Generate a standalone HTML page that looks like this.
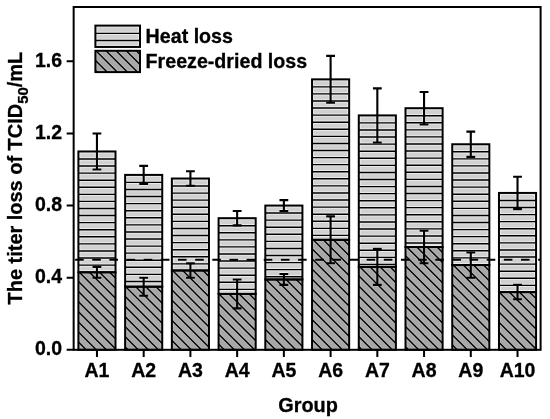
<!DOCTYPE html>
<html><head><meta charset="utf-8"><title>Titer loss chart</title>
<style>html,body{margin:0;padding:0;background:#fff;}svg{display:block;filter:blur(0.35px);}</style>
</head><body>
<svg width="550" height="419" viewBox="0 0 550 419">
<rect width="550" height="419" fill="#fff"/>
<defs><clipPath id="h0"><rect x="78.40" y="151.47" width="37.10" height="120.80"/></clipPath><clipPath id="d0"><rect x="78.40" y="272.27" width="37.10" height="77.53"/></clipPath><clipPath id="h1"><rect x="125.13" y="174.91" width="37.10" height="111.79"/></clipPath><clipPath id="d1"><rect x="125.13" y="286.69" width="37.10" height="63.11"/></clipPath><clipPath id="h2"><rect x="171.86" y="178.52" width="37.10" height="91.95"/></clipPath><clipPath id="d2"><rect x="171.86" y="270.47" width="37.10" height="79.33"/></clipPath><clipPath id="h3"><rect x="218.59" y="218.18" width="37.10" height="75.73"/></clipPath><clipPath id="d3"><rect x="218.59" y="293.91" width="37.10" height="55.89"/></clipPath><clipPath id="h4"><rect x="265.32" y="205.56" width="37.10" height="73.92"/></clipPath><clipPath id="d4"><rect x="265.32" y="279.48" width="37.10" height="70.32"/></clipPath><clipPath id="h5"><rect x="312.05" y="79.35" width="37.10" height="160.47"/></clipPath><clipPath id="d5"><rect x="312.05" y="239.82" width="37.10" height="109.98"/></clipPath><clipPath id="h6"><rect x="358.78" y="115.41" width="37.10" height="151.45"/></clipPath><clipPath id="d6"><rect x="358.78" y="266.86" width="37.10" height="82.94"/></clipPath><clipPath id="h7"><rect x="405.51" y="108.20" width="37.10" height="138.83"/></clipPath><clipPath id="d7"><rect x="405.51" y="247.03" width="37.10" height="102.77"/></clipPath><clipPath id="h8"><rect x="452.24" y="144.26" width="37.10" height="120.80"/></clipPath><clipPath id="d8"><rect x="452.24" y="265.06" width="37.10" height="84.74"/></clipPath><clipPath id="h9"><rect x="498.97" y="192.94" width="37.10" height="99.16"/></clipPath><clipPath id="d9"><rect x="498.97" y="292.10" width="37.10" height="57.70"/></clipPath><clipPath id="lg1"><rect x="95.40" y="25.60" width="44.60" height="21.35"/></clipPath><clipPath id="lg2"><rect x="95.40" y="50.80" width="44.60" height="21.30"/></clipPath><path id="dl" d="M75.1 259.65H540.60" stroke-dasharray="8.6 8.55" fill="none"/><path id="eb" d="M96.95 133.44V169.50M92.55 133.44h8.8M92.55 169.50h8.8M96.95 266.86V277.68M92.55 266.86h8.8M92.55 277.68h8.8M143.68 165.89V183.92M139.28 165.89h8.8M139.28 183.92h8.8M143.68 277.68V295.71M139.28 277.68h8.8M139.28 295.71h8.8M190.41 171.30V185.73M186.01 171.30h8.8M186.01 185.73h8.8M190.41 263.26V277.68M186.01 263.26h8.8M186.01 277.68h8.8M237.14 210.97V225.39M232.74 210.97h8.8M232.74 225.39h8.8M237.14 279.48V308.33M232.74 279.48h8.8M232.74 308.33h8.8M283.87 200.15V210.97M279.47 200.15h8.8M279.47 210.97h8.8M283.87 274.07V284.89M279.47 274.07h8.8M279.47 284.89h8.8M330.60 55.91V102.79M326.20 55.91h8.8M326.20 102.79h8.8M330.60 216.38V263.26M326.20 216.38h8.8M326.20 263.26h8.8M377.33 88.37V142.45M372.93 88.37h8.8M372.93 142.45h8.8M377.33 248.83V284.89M372.93 248.83h8.8M372.93 284.89h8.8M424.06 91.97V124.43M419.66 91.97h8.8M419.66 124.43h8.8M424.06 230.80V263.26M419.66 230.80h8.8M419.66 263.26h8.8M470.79 131.64V156.88M466.39 131.64h8.8M466.39 156.88h8.8M470.79 252.44V277.68M466.39 252.44h8.8M466.39 277.68h8.8M517.52 176.71V209.17M513.12 176.71h8.8M513.12 209.17h8.8M517.52 284.89V299.32M513.12 284.89h8.8M513.12 299.32h8.8" fill="none"/></defs>
<rect x="78.40" y="151.47" width="37.10" height="120.80" fill="#d0d0d0"/>
<rect x="78.40" y="272.27" width="37.10" height="77.53" fill="#a7a7a7"/>
<rect x="125.13" y="174.91" width="37.10" height="111.79" fill="#d0d0d0"/>
<rect x="125.13" y="286.69" width="37.10" height="63.11" fill="#a7a7a7"/>
<rect x="171.86" y="178.52" width="37.10" height="91.95" fill="#d0d0d0"/>
<rect x="171.86" y="270.47" width="37.10" height="79.33" fill="#a7a7a7"/>
<rect x="218.59" y="218.18" width="37.10" height="75.73" fill="#d0d0d0"/>
<rect x="218.59" y="293.91" width="37.10" height="55.89" fill="#a7a7a7"/>
<rect x="265.32" y="205.56" width="37.10" height="73.92" fill="#d0d0d0"/>
<rect x="265.32" y="279.48" width="37.10" height="70.32" fill="#a7a7a7"/>
<rect x="312.05" y="79.35" width="37.10" height="160.47" fill="#d0d0d0"/>
<rect x="312.05" y="239.82" width="37.10" height="109.98" fill="#a7a7a7"/>
<rect x="358.78" y="115.41" width="37.10" height="151.45" fill="#d0d0d0"/>
<rect x="358.78" y="266.86" width="37.10" height="82.94" fill="#a7a7a7"/>
<rect x="405.51" y="108.20" width="37.10" height="138.83" fill="#d0d0d0"/>
<rect x="405.51" y="247.03" width="37.10" height="102.77" fill="#a7a7a7"/>
<rect x="452.24" y="144.26" width="37.10" height="120.80" fill="#d0d0d0"/>
<rect x="452.24" y="265.06" width="37.10" height="84.74" fill="#a7a7a7"/>
<rect x="498.97" y="192.94" width="37.10" height="99.16" fill="#d0d0d0"/>
<rect x="498.97" y="292.10" width="37.10" height="57.70" fill="#a7a7a7"/>
<rect x="95.40" y="25.60" width="44.60" height="21.35" fill="#d0d0d0"/>
<rect x="95.40" y="50.80" width="44.60" height="21.30" fill="#a7a7a7"/>
<g clip-path="url(#h0)" stroke="#fff" fill="none" opacity="0.55"><path d="M78.40 158.97H115.50M78.40 166.04H115.50M78.40 173.12H115.50M78.40 180.19H115.50M78.40 187.27H115.50M78.40 194.34H115.50M78.40 201.42H115.50M78.40 208.49H115.50M78.40 215.57H115.50M78.40 222.64H115.50M78.40 229.72H115.50M78.40 236.79H115.50M78.40 243.87H115.50M78.40 250.94H115.50M78.40 258.02H115.50M78.40 265.09H115.50" stroke-width="3.4"/><rect x="78.40" y="151.47" width="37.10" height="120.80" stroke-width="4.0"/><use href="#eb" stroke-width="4.0"/><use href="#dl" stroke-width="4.0"/></g>
<g clip-path="url(#d0)" stroke="#fff" fill="none" opacity="0.15"><path d="M76.40 218.80L117.50 259.90M76.40 228.90L117.50 270.00M76.40 239.00L117.50 280.10M76.40 249.10L117.50 290.20M76.40 259.20L117.50 300.30M76.40 269.30L117.50 310.40M76.40 279.40L117.50 320.50M76.40 289.50L117.50 330.60M76.40 299.60L117.50 340.70M76.40 309.70L117.50 350.80M76.40 319.80L117.50 360.90M76.40 329.90L117.50 371.00M76.40 340.00L117.50 381.10M76.40 350.10L117.50 391.20M76.40 360.20L117.50 401.30" stroke-width="3.4"/><rect x="78.40" y="272.27" width="37.10" height="77.53" stroke-width="4.0"/><use href="#eb" stroke-width="4.0"/><use href="#dl" stroke-width="4.0"/></g>
<g clip-path="url(#h1)" stroke="#fff" fill="none" opacity="0.55"><path d="M125.13 182.41H162.23M125.13 189.48H162.23M125.13 196.56H162.23M125.13 203.63H162.23M125.13 210.71H162.23M125.13 217.78H162.23M125.13 224.86H162.23M125.13 231.93H162.23M125.13 239.01H162.23M125.13 246.08H162.23M125.13 253.16H162.23M125.13 260.23H162.23M125.13 267.31H162.23M125.13 274.38H162.23M125.13 281.46H162.23" stroke-width="3.4"/><rect x="125.13" y="174.91" width="37.10" height="111.79" stroke-width="4.0"/><use href="#eb" stroke-width="4.0"/><use href="#dl" stroke-width="4.0"/></g>
<g clip-path="url(#d1)" stroke="#fff" fill="none" opacity="0.15"><path d="M123.13 233.73L164.23 274.83M123.13 243.83L164.23 284.93M123.13 253.93L164.23 295.03M123.13 264.03L164.23 305.13M123.13 274.13L164.23 315.23M123.13 284.23L164.23 325.33M123.13 294.33L164.23 335.43M123.13 304.43L164.23 345.53M123.13 314.53L164.23 355.63M123.13 324.63L164.23 365.73M123.13 334.73L164.23 375.83M123.13 344.83L164.23 385.93M123.13 354.93L164.23 396.03M123.13 365.03L164.23 406.13" stroke-width="3.4"/><rect x="125.13" y="286.69" width="37.10" height="63.11" stroke-width="4.0"/><use href="#eb" stroke-width="4.0"/><use href="#dl" stroke-width="4.0"/></g>
<g clip-path="url(#h2)" stroke="#fff" fill="none" opacity="0.55"><path d="M171.86 186.02H208.96M171.86 193.09H208.96M171.86 200.16H208.96M171.86 207.24H208.96M171.86 214.31H208.96M171.86 221.39H208.96M171.86 228.46H208.96M171.86 235.54H208.96M171.86 242.61H208.96M171.86 249.69H208.96M171.86 256.76H208.96M171.86 263.84H208.96" stroke-width="3.4"/><rect x="171.86" y="178.52" width="37.10" height="91.95" stroke-width="4.0"/><use href="#eb" stroke-width="4.0"/><use href="#dl" stroke-width="4.0"/></g>
<g clip-path="url(#d2)" stroke="#fff" fill="none" opacity="0.15"><path d="M169.86 217.26L210.96 258.36M169.86 227.36L210.96 268.46M169.86 237.46L210.96 278.56M169.86 247.56L210.96 288.66M169.86 257.66L210.96 298.76M169.86 267.76L210.96 308.86M169.86 277.86L210.96 318.96M169.86 287.96L210.96 329.06M169.86 298.06L210.96 339.16M169.86 308.16L210.96 349.26M169.86 318.26L210.96 359.36M169.86 328.36L210.96 369.46M169.86 338.46L210.96 379.56M169.86 348.56L210.96 389.66M169.86 358.66L210.96 399.76" stroke-width="3.4"/><rect x="171.86" y="270.47" width="37.10" height="79.33" stroke-width="4.0"/><use href="#eb" stroke-width="4.0"/><use href="#dl" stroke-width="4.0"/></g>
<g clip-path="url(#h3)" stroke="#fff" fill="none" opacity="0.55"><path d="M218.59 225.68H255.69M218.59 232.76H255.69M218.59 239.83H255.69M218.59 246.91H255.69M218.59 253.98H255.69M218.59 261.06H255.69M218.59 268.13H255.69M218.59 275.21H255.69M218.59 282.28H255.69M218.59 289.36H255.69" stroke-width="3.4"/><rect x="218.59" y="218.18" width="37.10" height="75.73" stroke-width="4.0"/><use href="#eb" stroke-width="4.0"/><use href="#dl" stroke-width="4.0"/></g>
<g clip-path="url(#d3)" stroke="#fff" fill="none" opacity="0.15"><path d="M216.59 241.09L257.69 282.19M216.59 251.19L257.69 292.29M216.59 261.29L257.69 302.39M216.59 271.39L257.69 312.49M216.59 281.49L257.69 322.59M216.59 291.59L257.69 332.69M216.59 301.69L257.69 342.79M216.59 311.79L257.69 352.89M216.59 321.89L257.69 362.99M216.59 331.99L257.69 373.09M216.59 342.09L257.69 383.19M216.59 352.19L257.69 393.29M216.59 362.29L257.69 403.39" stroke-width="3.4"/><rect x="218.59" y="293.91" width="37.10" height="55.89" stroke-width="4.0"/><use href="#eb" stroke-width="4.0"/><use href="#dl" stroke-width="4.0"/></g>
<g clip-path="url(#h4)" stroke="#fff" fill="none" opacity="0.55"><path d="M265.32 213.06H302.42M265.32 220.13H302.42M265.32 227.21H302.42M265.32 234.28H302.42M265.32 241.36H302.42M265.32 248.43H302.42M265.32 255.51H302.42M265.32 262.58H302.42M265.32 269.66H302.42M265.32 276.73H302.42" stroke-width="3.4"/><rect x="265.32" y="205.56" width="37.10" height="73.92" stroke-width="4.0"/><use href="#eb" stroke-width="4.0"/><use href="#dl" stroke-width="4.0"/></g>
<g clip-path="url(#d4)" stroke="#fff" fill="none" opacity="0.15"><path d="M263.32 226.42L304.42 267.52M263.32 236.52L304.42 277.62M263.32 246.62L304.42 287.72M263.32 256.72L304.42 297.82M263.32 266.82L304.42 307.92M263.32 276.92L304.42 318.02M263.32 287.02L304.42 328.12M263.32 297.12L304.42 338.22M263.32 307.22L304.42 348.32M263.32 317.32L304.42 358.42M263.32 327.42L304.42 368.52M263.32 337.52L304.42 378.62M263.32 347.62L304.42 388.72M263.32 357.72L304.42 398.82M263.32 367.82L304.42 408.92" stroke-width="3.4"/><rect x="265.32" y="279.48" width="37.10" height="70.32" stroke-width="4.0"/><use href="#eb" stroke-width="4.0"/><use href="#dl" stroke-width="4.0"/></g>
<g clip-path="url(#h5)" stroke="#fff" fill="none" opacity="0.55"><path d="M312.05 86.85H349.15M312.05 93.92H349.15M312.05 101.00H349.15M312.05 108.07H349.15M312.05 115.15H349.15M312.05 122.22H349.15M312.05 129.30H349.15M312.05 136.37H349.15M312.05 143.45H349.15M312.05 150.52H349.15M312.05 157.60H349.15M312.05 164.67H349.15M312.05 171.75H349.15M312.05 178.82H349.15M312.05 185.90H349.15M312.05 192.97H349.15M312.05 200.05H349.15M312.05 207.12H349.15M312.05 214.20H349.15M312.05 221.27H349.15M312.05 228.35H349.15M312.05 235.42H349.15" stroke-width="3.4"/><rect x="312.05" y="79.35" width="37.10" height="160.47" stroke-width="4.0"/><use href="#eb" stroke-width="4.0"/><use href="#dl" stroke-width="4.0"/></g>
<g clip-path="url(#d5)" stroke="#fff" fill="none" opacity="0.15"><path d="M310.05 186.15L351.15 227.25M310.05 196.25L351.15 237.35M310.05 206.35L351.15 247.45M310.05 216.45L351.15 257.55M310.05 226.55L351.15 267.65M310.05 236.65L351.15 277.75M310.05 246.75L351.15 287.85M310.05 256.85L351.15 297.95M310.05 266.95L351.15 308.05M310.05 277.05L351.15 318.15M310.05 287.15L351.15 328.25M310.05 297.25L351.15 338.35M310.05 307.35L351.15 348.45M310.05 317.45L351.15 358.55M310.05 327.55L351.15 368.65M310.05 337.65L351.15 378.75M310.05 347.75L351.15 388.85M310.05 357.85L351.15 398.95M310.05 367.95L351.15 409.05" stroke-width="3.4"/><rect x="312.05" y="239.82" width="37.10" height="109.98" stroke-width="4.0"/><use href="#eb" stroke-width="4.0"/><use href="#dl" stroke-width="4.0"/></g>
<g clip-path="url(#h6)" stroke="#fff" fill="none" opacity="0.55"><path d="M358.78 122.91H395.88M358.78 129.98H395.88M358.78 137.06H395.88M358.78 144.13H395.88M358.78 151.21H395.88M358.78 158.28H395.88M358.78 165.36H395.88M358.78 172.43H395.88M358.78 179.51H395.88M358.78 186.58H395.88M358.78 193.66H395.88M358.78 200.73H395.88M358.78 207.81H395.88M358.78 214.88H395.88M358.78 221.96H395.88M358.78 229.03H395.88M358.78 236.11H395.88M358.78 243.18H395.88M358.78 250.26H395.88M358.78 257.33H395.88M358.78 264.41H395.88" stroke-width="3.4"/><rect x="358.78" y="115.41" width="37.10" height="151.45" stroke-width="4.0"/><use href="#eb" stroke-width="4.0"/><use href="#dl" stroke-width="4.0"/></g>
<g clip-path="url(#d6)" stroke="#fff" fill="none" opacity="0.15"><path d="M356.78 213.28L397.88 254.38M356.78 223.38L397.88 264.48M356.78 233.48L397.88 274.58M356.78 243.58L397.88 284.68M356.78 253.68L397.88 294.78M356.78 263.78L397.88 304.88M356.78 273.88L397.88 314.98M356.78 283.98L397.88 325.08M356.78 294.08L397.88 335.18M356.78 304.18L397.88 345.28M356.78 314.28L397.88 355.38M356.78 324.38L397.88 365.48M356.78 334.48L397.88 375.58M356.78 344.58L397.88 385.68M356.78 354.68L397.88 395.78M356.78 364.78L397.88 405.88" stroke-width="3.4"/><rect x="358.78" y="266.86" width="37.10" height="82.94" stroke-width="4.0"/><use href="#eb" stroke-width="4.0"/><use href="#dl" stroke-width="4.0"/></g>
<g clip-path="url(#h7)" stroke="#fff" fill="none" opacity="0.55"><path d="M405.51 115.70H442.61M405.51 122.77H442.61M405.51 129.85H442.61M405.51 136.92H442.61M405.51 144.00H442.61M405.51 151.07H442.61M405.51 158.15H442.61M405.51 165.22H442.61M405.51 172.30H442.61M405.51 179.37H442.61M405.51 186.45H442.61M405.51 193.52H442.61M405.51 200.60H442.61M405.51 207.67H442.61M405.51 214.75H442.61M405.51 221.82H442.61M405.51 228.90H442.61M405.51 235.97H442.61M405.51 243.05H442.61" stroke-width="3.4"/><rect x="405.51" y="108.20" width="37.10" height="138.83" stroke-width="4.0"/><use href="#eb" stroke-width="4.0"/><use href="#dl" stroke-width="4.0"/></g>
<g clip-path="url(#d7)" stroke="#fff" fill="none" opacity="0.15"><path d="M403.51 193.21L444.61 234.31M403.51 203.31L444.61 244.41M403.51 213.41L444.61 254.51M403.51 223.51L444.61 264.61M403.51 233.61L444.61 274.71M403.51 243.71L444.61 284.81M403.51 253.81L444.61 294.91M403.51 263.91L444.61 305.01M403.51 274.01L444.61 315.11M403.51 284.11L444.61 325.21M403.51 294.21L444.61 335.31M403.51 304.31L444.61 345.41M403.51 314.41L444.61 355.51M403.51 324.51L444.61 365.61M403.51 334.61L444.61 375.71M403.51 344.71L444.61 385.81M403.51 354.81L444.61 395.91M403.51 364.91L444.61 406.01" stroke-width="3.4"/><rect x="405.51" y="247.03" width="37.10" height="102.77" stroke-width="4.0"/><use href="#eb" stroke-width="4.0"/><use href="#dl" stroke-width="4.0"/></g>
<g clip-path="url(#h8)" stroke="#fff" fill="none" opacity="0.55"><path d="M452.24 151.76H489.34M452.24 158.83H489.34M452.24 165.91H489.34M452.24 172.98H489.34M452.24 180.06H489.34M452.24 187.13H489.34M452.24 194.21H489.34M452.24 201.28H489.34M452.24 208.36H489.34M452.24 215.43H489.34M452.24 222.51H489.34M452.24 229.58H489.34M452.24 236.66H489.34M452.24 243.73H489.34M452.24 250.81H489.34M452.24 257.88H489.34" stroke-width="3.4"/><rect x="452.24" y="144.26" width="37.10" height="120.80" stroke-width="4.0"/><use href="#eb" stroke-width="4.0"/><use href="#dl" stroke-width="4.0"/></g>
<g clip-path="url(#d8)" stroke="#fff" fill="none" opacity="0.15"><path d="M450.24 211.54L491.34 252.64M450.24 221.64L491.34 262.74M450.24 231.74L491.34 272.84M450.24 241.84L491.34 282.94M450.24 251.94L491.34 293.04M450.24 262.04L491.34 303.14M450.24 272.14L491.34 313.24M450.24 282.24L491.34 323.34M450.24 292.34L491.34 333.44M450.24 302.44L491.34 343.54M450.24 312.54L491.34 353.64M450.24 322.64L491.34 363.74M450.24 332.74L491.34 373.84M450.24 342.84L491.34 383.94M450.24 352.94L491.34 394.04M450.24 363.04L491.34 404.14" stroke-width="3.4"/><rect x="452.24" y="265.06" width="37.10" height="84.74" stroke-width="4.0"/><use href="#eb" stroke-width="4.0"/><use href="#dl" stroke-width="4.0"/></g>
<g clip-path="url(#h9)" stroke="#fff" fill="none" opacity="0.55"><path d="M498.97 200.44H536.07M498.97 207.51H536.07M498.97 214.59H536.07M498.97 221.66H536.07M498.97 228.74H536.07M498.97 235.81H536.07M498.97 242.89H536.07M498.97 249.96H536.07M498.97 257.04H536.07M498.97 264.11H536.07M498.97 271.19H536.07M498.97 278.26H536.07M498.97 285.34H536.07" stroke-width="3.4"/><rect x="498.97" y="192.94" width="37.10" height="99.16" stroke-width="4.0"/><use href="#eb" stroke-width="4.0"/><use href="#dl" stroke-width="4.0"/></g>
<g clip-path="url(#d9)" stroke="#fff" fill="none" opacity="0.15"><path d="M496.97 239.37L538.07 280.47M496.97 249.47L538.07 290.57M496.97 259.57L538.07 300.67M496.97 269.67L538.07 310.77M496.97 279.77L538.07 320.87M496.97 289.87L538.07 330.97M496.97 299.97L538.07 341.07M496.97 310.07L538.07 351.17M496.97 320.17L538.07 361.27M496.97 330.27L538.07 371.37M496.97 340.37L538.07 381.47M496.97 350.47L538.07 391.57M496.97 360.57L538.07 401.67" stroke-width="3.4"/><rect x="498.97" y="292.10" width="37.10" height="57.70" stroke-width="4.0"/><use href="#eb" stroke-width="4.0"/><use href="#dl" stroke-width="4.0"/></g>
<g clip-path="url(#lg1)" stroke="#fff" fill="none" opacity="0.55"><path d="M95.40 33.40H140.00M95.40 40.48H140.00" stroke-width="3.4"/><rect x="95.40" y="25.60" width="44.60" height="21.35" stroke-width="4.0"/><use href="#eb" stroke-width="4.0"/><use href="#dl" stroke-width="4.0"/></g>
<g clip-path="url(#lg2)" stroke="#fff" fill="none" opacity="0.15"><path d="M93.40 -12.40L142.00 36.20M93.40 -2.30L142.00 46.30M93.40 7.80L142.00 56.40M93.40 17.90L142.00 66.50M93.40 28.00L142.00 76.60M93.40 38.10L142.00 86.70M93.40 48.20L142.00 96.80M93.40 58.30L142.00 106.90M93.40 68.40L142.00 117.00M93.40 78.50L142.00 127.10M93.40 88.60L142.00 137.20" stroke-width="3.4"/><rect x="95.40" y="50.80" width="44.60" height="21.30" stroke-width="4.0"/><use href="#eb" stroke-width="4.0"/><use href="#dl" stroke-width="4.0"/></g>
<path d="M78.40 158.97H115.50M78.40 166.04H115.50M78.40 173.12H115.50M78.40 180.19H115.50M78.40 187.27H115.50M78.40 194.34H115.50M78.40 201.42H115.50M78.40 208.49H115.50M78.40 215.57H115.50M78.40 222.64H115.50M78.40 229.72H115.50M78.40 236.79H115.50M78.40 243.87H115.50M78.40 250.94H115.50M78.40 258.02H115.50M78.40 265.09H115.50" stroke="#000" stroke-width="1.4" fill="none" clip-path="url(#h0)"/>
<path d="M76.40 218.80L117.50 259.90M76.40 228.90L117.50 270.00M76.40 239.00L117.50 280.10M76.40 249.10L117.50 290.20M76.40 259.20L117.50 300.30M76.40 269.30L117.50 310.40M76.40 279.40L117.50 320.50M76.40 289.50L117.50 330.60M76.40 299.60L117.50 340.70M76.40 309.70L117.50 350.80M76.40 319.80L117.50 360.90M76.40 329.90L117.50 371.00M76.40 340.00L117.50 381.10M76.40 350.10L117.50 391.20M76.40 360.20L117.50 401.30" stroke="#000" stroke-width="1.4" fill="none" clip-path="url(#d0)"/>
<path d="M125.13 182.41H162.23M125.13 189.48H162.23M125.13 196.56H162.23M125.13 203.63H162.23M125.13 210.71H162.23M125.13 217.78H162.23M125.13 224.86H162.23M125.13 231.93H162.23M125.13 239.01H162.23M125.13 246.08H162.23M125.13 253.16H162.23M125.13 260.23H162.23M125.13 267.31H162.23M125.13 274.38H162.23M125.13 281.46H162.23" stroke="#000" stroke-width="1.4" fill="none" clip-path="url(#h1)"/>
<path d="M123.13 233.73L164.23 274.83M123.13 243.83L164.23 284.93M123.13 253.93L164.23 295.03M123.13 264.03L164.23 305.13M123.13 274.13L164.23 315.23M123.13 284.23L164.23 325.33M123.13 294.33L164.23 335.43M123.13 304.43L164.23 345.53M123.13 314.53L164.23 355.63M123.13 324.63L164.23 365.73M123.13 334.73L164.23 375.83M123.13 344.83L164.23 385.93M123.13 354.93L164.23 396.03M123.13 365.03L164.23 406.13" stroke="#000" stroke-width="1.4" fill="none" clip-path="url(#d1)"/>
<path d="M171.86 186.02H208.96M171.86 193.09H208.96M171.86 200.16H208.96M171.86 207.24H208.96M171.86 214.31H208.96M171.86 221.39H208.96M171.86 228.46H208.96M171.86 235.54H208.96M171.86 242.61H208.96M171.86 249.69H208.96M171.86 256.76H208.96M171.86 263.84H208.96" stroke="#000" stroke-width="1.4" fill="none" clip-path="url(#h2)"/>
<path d="M169.86 217.26L210.96 258.36M169.86 227.36L210.96 268.46M169.86 237.46L210.96 278.56M169.86 247.56L210.96 288.66M169.86 257.66L210.96 298.76M169.86 267.76L210.96 308.86M169.86 277.86L210.96 318.96M169.86 287.96L210.96 329.06M169.86 298.06L210.96 339.16M169.86 308.16L210.96 349.26M169.86 318.26L210.96 359.36M169.86 328.36L210.96 369.46M169.86 338.46L210.96 379.56M169.86 348.56L210.96 389.66M169.86 358.66L210.96 399.76" stroke="#000" stroke-width="1.4" fill="none" clip-path="url(#d2)"/>
<path d="M218.59 225.68H255.69M218.59 232.76H255.69M218.59 239.83H255.69M218.59 246.91H255.69M218.59 253.98H255.69M218.59 261.06H255.69M218.59 268.13H255.69M218.59 275.21H255.69M218.59 282.28H255.69M218.59 289.36H255.69" stroke="#000" stroke-width="1.4" fill="none" clip-path="url(#h3)"/>
<path d="M216.59 241.09L257.69 282.19M216.59 251.19L257.69 292.29M216.59 261.29L257.69 302.39M216.59 271.39L257.69 312.49M216.59 281.49L257.69 322.59M216.59 291.59L257.69 332.69M216.59 301.69L257.69 342.79M216.59 311.79L257.69 352.89M216.59 321.89L257.69 362.99M216.59 331.99L257.69 373.09M216.59 342.09L257.69 383.19M216.59 352.19L257.69 393.29M216.59 362.29L257.69 403.39" stroke="#000" stroke-width="1.4" fill="none" clip-path="url(#d3)"/>
<path d="M265.32 213.06H302.42M265.32 220.13H302.42M265.32 227.21H302.42M265.32 234.28H302.42M265.32 241.36H302.42M265.32 248.43H302.42M265.32 255.51H302.42M265.32 262.58H302.42M265.32 269.66H302.42M265.32 276.73H302.42" stroke="#000" stroke-width="1.4" fill="none" clip-path="url(#h4)"/>
<path d="M263.32 226.42L304.42 267.52M263.32 236.52L304.42 277.62M263.32 246.62L304.42 287.72M263.32 256.72L304.42 297.82M263.32 266.82L304.42 307.92M263.32 276.92L304.42 318.02M263.32 287.02L304.42 328.12M263.32 297.12L304.42 338.22M263.32 307.22L304.42 348.32M263.32 317.32L304.42 358.42M263.32 327.42L304.42 368.52M263.32 337.52L304.42 378.62M263.32 347.62L304.42 388.72M263.32 357.72L304.42 398.82M263.32 367.82L304.42 408.92" stroke="#000" stroke-width="1.4" fill="none" clip-path="url(#d4)"/>
<path d="M312.05 86.85H349.15M312.05 93.92H349.15M312.05 101.00H349.15M312.05 108.07H349.15M312.05 115.15H349.15M312.05 122.22H349.15M312.05 129.30H349.15M312.05 136.37H349.15M312.05 143.45H349.15M312.05 150.52H349.15M312.05 157.60H349.15M312.05 164.67H349.15M312.05 171.75H349.15M312.05 178.82H349.15M312.05 185.90H349.15M312.05 192.97H349.15M312.05 200.05H349.15M312.05 207.12H349.15M312.05 214.20H349.15M312.05 221.27H349.15M312.05 228.35H349.15M312.05 235.42H349.15" stroke="#000" stroke-width="1.4" fill="none" clip-path="url(#h5)"/>
<path d="M310.05 186.15L351.15 227.25M310.05 196.25L351.15 237.35M310.05 206.35L351.15 247.45M310.05 216.45L351.15 257.55M310.05 226.55L351.15 267.65M310.05 236.65L351.15 277.75M310.05 246.75L351.15 287.85M310.05 256.85L351.15 297.95M310.05 266.95L351.15 308.05M310.05 277.05L351.15 318.15M310.05 287.15L351.15 328.25M310.05 297.25L351.15 338.35M310.05 307.35L351.15 348.45M310.05 317.45L351.15 358.55M310.05 327.55L351.15 368.65M310.05 337.65L351.15 378.75M310.05 347.75L351.15 388.85M310.05 357.85L351.15 398.95M310.05 367.95L351.15 409.05" stroke="#000" stroke-width="1.4" fill="none" clip-path="url(#d5)"/>
<path d="M358.78 122.91H395.88M358.78 129.98H395.88M358.78 137.06H395.88M358.78 144.13H395.88M358.78 151.21H395.88M358.78 158.28H395.88M358.78 165.36H395.88M358.78 172.43H395.88M358.78 179.51H395.88M358.78 186.58H395.88M358.78 193.66H395.88M358.78 200.73H395.88M358.78 207.81H395.88M358.78 214.88H395.88M358.78 221.96H395.88M358.78 229.03H395.88M358.78 236.11H395.88M358.78 243.18H395.88M358.78 250.26H395.88M358.78 257.33H395.88M358.78 264.41H395.88" stroke="#000" stroke-width="1.4" fill="none" clip-path="url(#h6)"/>
<path d="M356.78 213.28L397.88 254.38M356.78 223.38L397.88 264.48M356.78 233.48L397.88 274.58M356.78 243.58L397.88 284.68M356.78 253.68L397.88 294.78M356.78 263.78L397.88 304.88M356.78 273.88L397.88 314.98M356.78 283.98L397.88 325.08M356.78 294.08L397.88 335.18M356.78 304.18L397.88 345.28M356.78 314.28L397.88 355.38M356.78 324.38L397.88 365.48M356.78 334.48L397.88 375.58M356.78 344.58L397.88 385.68M356.78 354.68L397.88 395.78M356.78 364.78L397.88 405.88" stroke="#000" stroke-width="1.4" fill="none" clip-path="url(#d6)"/>
<path d="M405.51 115.70H442.61M405.51 122.77H442.61M405.51 129.85H442.61M405.51 136.92H442.61M405.51 144.00H442.61M405.51 151.07H442.61M405.51 158.15H442.61M405.51 165.22H442.61M405.51 172.30H442.61M405.51 179.37H442.61M405.51 186.45H442.61M405.51 193.52H442.61M405.51 200.60H442.61M405.51 207.67H442.61M405.51 214.75H442.61M405.51 221.82H442.61M405.51 228.90H442.61M405.51 235.97H442.61M405.51 243.05H442.61" stroke="#000" stroke-width="1.4" fill="none" clip-path="url(#h7)"/>
<path d="M403.51 193.21L444.61 234.31M403.51 203.31L444.61 244.41M403.51 213.41L444.61 254.51M403.51 223.51L444.61 264.61M403.51 233.61L444.61 274.71M403.51 243.71L444.61 284.81M403.51 253.81L444.61 294.91M403.51 263.91L444.61 305.01M403.51 274.01L444.61 315.11M403.51 284.11L444.61 325.21M403.51 294.21L444.61 335.31M403.51 304.31L444.61 345.41M403.51 314.41L444.61 355.51M403.51 324.51L444.61 365.61M403.51 334.61L444.61 375.71M403.51 344.71L444.61 385.81M403.51 354.81L444.61 395.91M403.51 364.91L444.61 406.01" stroke="#000" stroke-width="1.4" fill="none" clip-path="url(#d7)"/>
<path d="M452.24 151.76H489.34M452.24 158.83H489.34M452.24 165.91H489.34M452.24 172.98H489.34M452.24 180.06H489.34M452.24 187.13H489.34M452.24 194.21H489.34M452.24 201.28H489.34M452.24 208.36H489.34M452.24 215.43H489.34M452.24 222.51H489.34M452.24 229.58H489.34M452.24 236.66H489.34M452.24 243.73H489.34M452.24 250.81H489.34M452.24 257.88H489.34" stroke="#000" stroke-width="1.4" fill="none" clip-path="url(#h8)"/>
<path d="M450.24 211.54L491.34 252.64M450.24 221.64L491.34 262.74M450.24 231.74L491.34 272.84M450.24 241.84L491.34 282.94M450.24 251.94L491.34 293.04M450.24 262.04L491.34 303.14M450.24 272.14L491.34 313.24M450.24 282.24L491.34 323.34M450.24 292.34L491.34 333.44M450.24 302.44L491.34 343.54M450.24 312.54L491.34 353.64M450.24 322.64L491.34 363.74M450.24 332.74L491.34 373.84M450.24 342.84L491.34 383.94M450.24 352.94L491.34 394.04M450.24 363.04L491.34 404.14" stroke="#000" stroke-width="1.4" fill="none" clip-path="url(#d8)"/>
<path d="M498.97 200.44H536.07M498.97 207.51H536.07M498.97 214.59H536.07M498.97 221.66H536.07M498.97 228.74H536.07M498.97 235.81H536.07M498.97 242.89H536.07M498.97 249.96H536.07M498.97 257.04H536.07M498.97 264.11H536.07M498.97 271.19H536.07M498.97 278.26H536.07M498.97 285.34H536.07" stroke="#000" stroke-width="1.4" fill="none" clip-path="url(#h9)"/>
<path d="M496.97 239.37L538.07 280.47M496.97 249.47L538.07 290.57M496.97 259.57L538.07 300.67M496.97 269.67L538.07 310.77M496.97 279.77L538.07 320.87M496.97 289.87L538.07 330.97M496.97 299.97L538.07 341.07M496.97 310.07L538.07 351.17M496.97 320.17L538.07 361.27M496.97 330.27L538.07 371.37M496.97 340.37L538.07 381.47M496.97 350.47L538.07 391.57M496.97 360.57L538.07 401.67" stroke="#000" stroke-width="1.4" fill="none" clip-path="url(#d9)"/>
<path d="M95.40 33.40H140.00M95.40 40.48H140.00" stroke="#000" stroke-width="1.4" fill="none" clip-path="url(#lg1)"/>
<path d="M93.40 -12.40L142.00 36.20M93.40 -2.30L142.00 46.30M93.40 7.80L142.00 56.40M93.40 17.90L142.00 66.50M93.40 28.00L142.00 76.60M93.40 38.10L142.00 86.70M93.40 48.20L142.00 96.80M93.40 58.30L142.00 106.90M93.40 68.40L142.00 117.00M93.40 78.50L142.00 127.10M93.40 88.60L142.00 137.20" stroke="#000" stroke-width="1.4" fill="none" clip-path="url(#lg2)"/>
<rect x="78.40" y="151.47" width="37.10" height="120.80" fill="none" stroke="#000" stroke-width="2"/>
<rect x="78.40" y="272.27" width="37.10" height="77.53" fill="none" stroke="#000" stroke-width="2"/>
<rect x="125.13" y="174.91" width="37.10" height="111.79" fill="none" stroke="#000" stroke-width="2"/>
<rect x="125.13" y="286.69" width="37.10" height="63.11" fill="none" stroke="#000" stroke-width="2"/>
<rect x="171.86" y="178.52" width="37.10" height="91.95" fill="none" stroke="#000" stroke-width="2"/>
<rect x="171.86" y="270.47" width="37.10" height="79.33" fill="none" stroke="#000" stroke-width="2"/>
<rect x="218.59" y="218.18" width="37.10" height="75.73" fill="none" stroke="#000" stroke-width="2"/>
<rect x="218.59" y="293.91" width="37.10" height="55.89" fill="none" stroke="#000" stroke-width="2"/>
<rect x="265.32" y="205.56" width="37.10" height="73.92" fill="none" stroke="#000" stroke-width="2"/>
<rect x="265.32" y="279.48" width="37.10" height="70.32" fill="none" stroke="#000" stroke-width="2"/>
<rect x="312.05" y="79.35" width="37.10" height="160.47" fill="none" stroke="#000" stroke-width="2"/>
<rect x="312.05" y="239.82" width="37.10" height="109.98" fill="none" stroke="#000" stroke-width="2"/>
<rect x="358.78" y="115.41" width="37.10" height="151.45" fill="none" stroke="#000" stroke-width="2"/>
<rect x="358.78" y="266.86" width="37.10" height="82.94" fill="none" stroke="#000" stroke-width="2"/>
<rect x="405.51" y="108.20" width="37.10" height="138.83" fill="none" stroke="#000" stroke-width="2"/>
<rect x="405.51" y="247.03" width="37.10" height="102.77" fill="none" stroke="#000" stroke-width="2"/>
<rect x="452.24" y="144.26" width="37.10" height="120.80" fill="none" stroke="#000" stroke-width="2"/>
<rect x="452.24" y="265.06" width="37.10" height="84.74" fill="none" stroke="#000" stroke-width="2"/>
<rect x="498.97" y="192.94" width="37.10" height="99.16" fill="none" stroke="#000" stroke-width="2"/>
<rect x="498.97" y="292.10" width="37.10" height="57.70" fill="none" stroke="#000" stroke-width="2"/>
<rect x="95.40" y="25.60" width="44.60" height="21.35" fill="none" stroke="#000" stroke-width="2"/>
<rect x="95.40" y="50.80" width="44.60" height="21.30" fill="none" stroke="#000" stroke-width="2"/>
<use href="#dl" stroke="#000" stroke-width="2"/>
<use href="#eb" stroke="#000" stroke-width="2.1"/>
<rect x="73.65" y="7.0" width="466.95" height="342.80" fill="none" stroke="#000" stroke-width="2"/>
<path d="M96.95 349.80v7.2M143.68 349.80v7.2M190.41 349.80v7.2M237.14 349.80v7.2M283.87 349.80v7.2M330.60 349.80v7.2M377.33 349.80v7.2M424.06 349.80v7.2M470.79 349.80v7.2M517.52 349.80v7.2M73.65 349.80h-7M73.65 277.68h-7M73.65 205.56h-7M73.65 133.44h-7M73.65 61.32h-7" stroke="#000" stroke-width="2" fill="none"/>
<text transform="translate(96.95 376.90) scale(1 1.04)" text-anchor="middle" font-size="19.5" font-family="Liberation Sans, Arial, Helvetica, sans-serif" font-weight="bold" stroke="#000" stroke-width="0.3">A1</text>
<text transform="translate(143.68 376.90) scale(1 1.04)" text-anchor="middle" font-size="19.5" font-family="Liberation Sans, Arial, Helvetica, sans-serif" font-weight="bold" stroke="#000" stroke-width="0.3">A2</text>
<text transform="translate(190.41 376.90) scale(1 1.04)" text-anchor="middle" font-size="19.5" font-family="Liberation Sans, Arial, Helvetica, sans-serif" font-weight="bold" stroke="#000" stroke-width="0.3">A3</text>
<text transform="translate(237.14 376.90) scale(1 1.04)" text-anchor="middle" font-size="19.5" font-family="Liberation Sans, Arial, Helvetica, sans-serif" font-weight="bold" stroke="#000" stroke-width="0.3">A4</text>
<text transform="translate(283.87 376.90) scale(1 1.04)" text-anchor="middle" font-size="19.5" font-family="Liberation Sans, Arial, Helvetica, sans-serif" font-weight="bold" stroke="#000" stroke-width="0.3">A5</text>
<text transform="translate(330.60 376.90) scale(1 1.04)" text-anchor="middle" font-size="19.5" font-family="Liberation Sans, Arial, Helvetica, sans-serif" font-weight="bold" stroke="#000" stroke-width="0.3">A6</text>
<text transform="translate(377.33 376.90) scale(1 1.04)" text-anchor="middle" font-size="19.5" font-family="Liberation Sans, Arial, Helvetica, sans-serif" font-weight="bold" stroke="#000" stroke-width="0.3">A7</text>
<text transform="translate(424.06 376.90) scale(1 1.04)" text-anchor="middle" font-size="19.5" font-family="Liberation Sans, Arial, Helvetica, sans-serif" font-weight="bold" stroke="#000" stroke-width="0.3">A8</text>
<text transform="translate(470.79 376.90) scale(1 1.04)" text-anchor="middle" font-size="19.5" font-family="Liberation Sans, Arial, Helvetica, sans-serif" font-weight="bold" stroke="#000" stroke-width="0.3">A9</text>
<text transform="translate(517.52 376.90) scale(1 1.04)" text-anchor="middle" font-size="19.5" font-family="Liberation Sans, Arial, Helvetica, sans-serif" font-weight="bold" stroke="#000" stroke-width="0.3">A10</text>
<text transform="translate(62.00 355.30) scale(1 1.08)" text-anchor="end" font-size="19.5" font-family="Liberation Sans, Arial, Helvetica, sans-serif" font-weight="bold" stroke="#000" stroke-width="0.3">0.0</text>
<text transform="translate(62.00 283.18) scale(1 1.08)" text-anchor="end" font-size="19.5" font-family="Liberation Sans, Arial, Helvetica, sans-serif" font-weight="bold" stroke="#000" stroke-width="0.3">0.4</text>
<text transform="translate(62.00 211.06) scale(1 1.08)" text-anchor="end" font-size="19.5" font-family="Liberation Sans, Arial, Helvetica, sans-serif" font-weight="bold" stroke="#000" stroke-width="0.3">0.8</text>
<text transform="translate(62.00 138.94) scale(1 1.08)" text-anchor="end" font-size="19.5" font-family="Liberation Sans, Arial, Helvetica, sans-serif" font-weight="bold" stroke="#000" stroke-width="0.3">1.2</text>
<text transform="translate(62.00 66.82) scale(1 1.08)" text-anchor="end" font-size="19.5" font-family="Liberation Sans, Arial, Helvetica, sans-serif" font-weight="bold" stroke="#000" stroke-width="0.3">1.6</text>
<text transform="translate(308.00 411.60) scale(1.02 1.04)" text-anchor="middle" font-size="19.5" font-family="Liberation Sans, Arial, Helvetica, sans-serif" font-weight="bold" stroke="#000" stroke-width="0.3">Group</text>
<text transform="translate(21.6 304.4) rotate(-90) scale(1.023 1)" font-size="19.5" font-family="Liberation Sans, Arial, Helvetica, sans-serif" font-weight="bold" stroke="#000" stroke-width="0.3">The titer loss of TCID<tspan font-size="14.6" dy="6.5">50</tspan><tspan dy="-6.5">/mL</tspan></text>
<text transform="translate(145.60 43.30) scale(1.008 1.0)" text-anchor="start" font-size="19.5" font-family="Liberation Sans, Arial, Helvetica, sans-serif" font-weight="bold" stroke="#000" stroke-width="0.3">Heat loss</text>
<text transform="translate(145.60 68.20) scale(1.008 1.0)" text-anchor="start" font-size="19.5" font-family="Liberation Sans, Arial, Helvetica, sans-serif" font-weight="bold" stroke="#000" stroke-width="0.3">Freeze-dried loss</text>
</svg>
</body></html>
